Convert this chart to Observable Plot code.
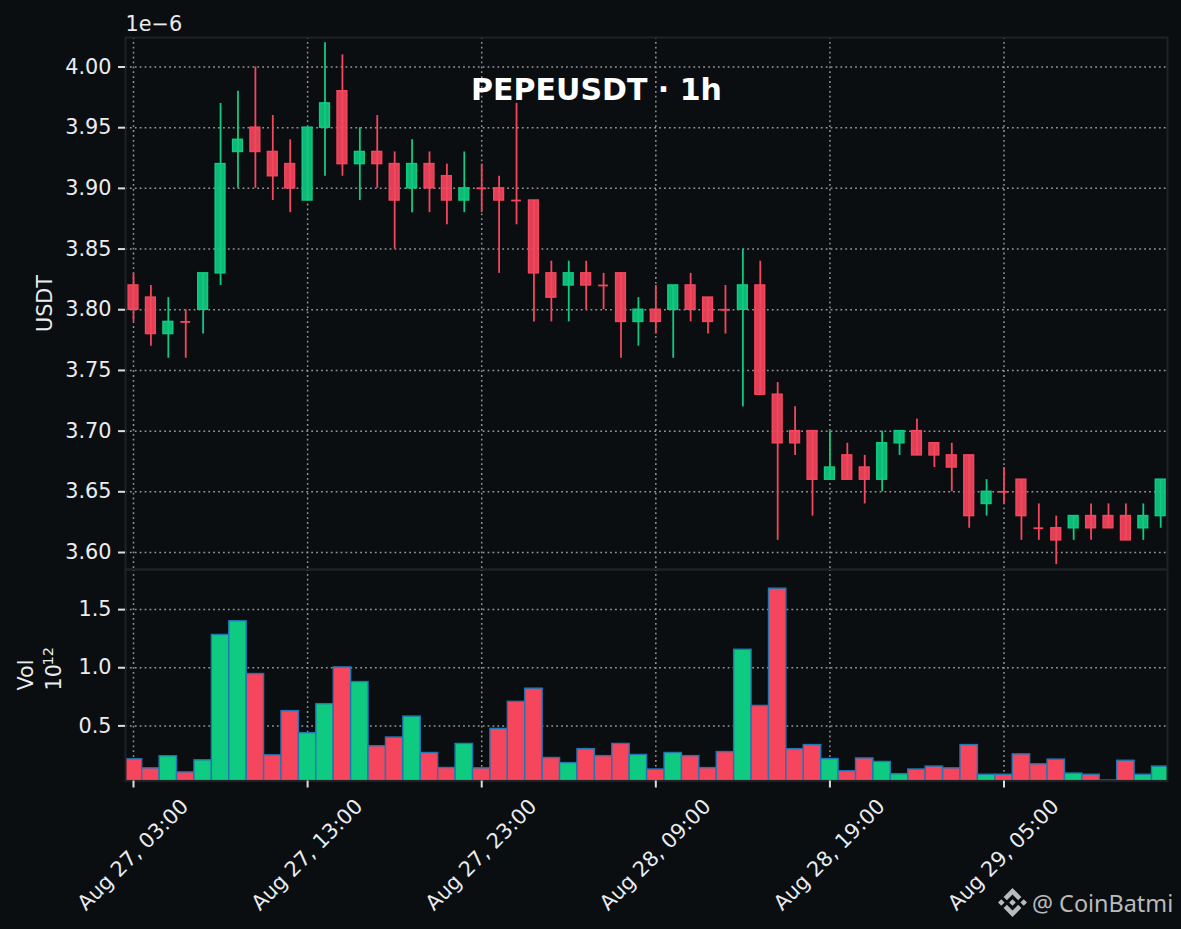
<!DOCTYPE html>
<html>
<head>
<meta charset="utf-8">
<script src="https://cdn.jsdelivr.net/npm/d3@7"></script>
<script src="https://cdn.jsdelivr.net/npm/@observablehq/plot@0.6"></script>
<style>
html,body{margin:0;padding:0;background:#0B0E11;}
#wrap{position:relative;width:1181px;height:929px;overflow:hidden;font-family:"DejaVu Sans",sans-serif;}
#wrap svg{display:block;}
#wm{position:absolute;left:998px;top:888px;display:flex;align-items:center;color:#b9bbbd;font:23.4px "Noto Sans",sans-serif;white-space:nowrap;line-height:28px;}
#wm svg{width:29px;height:29px;margin-right:5px;fill:#b9bbbd;}
</style>
</head>
<body>
<div id="wrap"></div>
<script>
const startTime = "2023-08-27T03:00:00Z";
const opens  = [3.82,3.81,3.78,3.79,3.80,3.83,3.93,3.95,3.93,3.92,3.89,3.95,3.98,3.92,3.93,3.92,3.90,3.92,3.91,3.89,3.90,3.90,3.89,3.89,3.83,3.82,3.83,3.82,3.83,3.79,3.80,3.80,3.82,3.81,3.80,3.80,3.82,3.73,3.70,3.70,3.66,3.68,3.67,3.66,3.69,3.70,3.69,3.68,3.68,3.64,3.65,3.66,3.62,3.62,3.62,3.63,3.63,3.63,3.62,3.63];
const highs  = [3.83,3.82,3.81,3.80,3.83,3.97,3.98,4.00,3.96,3.94,3.95,4.02,4.01,3.95,3.96,3.93,3.94,3.93,3.92,3.93,3.92,3.91,3.97,3.89,3.84,3.84,3.84,3.83,3.83,3.81,3.82,3.82,3.83,3.81,3.82,3.85,3.84,3.74,3.72,3.70,3.70,3.69,3.68,3.70,3.70,3.71,3.69,3.69,3.68,3.66,3.67,3.66,3.64,3.63,3.63,3.64,3.64,3.64,3.64,3.66];
const lows   = [3.79,3.77,3.76,3.76,3.78,3.82,3.90,3.90,3.89,3.88,3.89,3.91,3.91,3.89,3.90,3.85,3.88,3.88,3.87,3.88,3.88,3.83,3.87,3.79,3.79,3.79,3.80,3.80,3.76,3.77,3.78,3.76,3.79,3.78,3.78,3.72,3.73,3.61,3.68,3.63,3.66,3.66,3.64,3.65,3.68,3.68,3.67,3.65,3.62,3.63,3.64,3.61,3.61,3.59,3.61,3.61,3.62,3.61,3.61,3.62];
const closes = [3.80,3.78,3.79,3.79,3.83,3.92,3.94,3.93,3.91,3.90,3.95,3.97,3.92,3.93,3.92,3.89,3.92,3.90,3.89,3.90,3.90,3.89,3.89,3.83,3.81,3.83,3.82,3.82,3.79,3.80,3.79,3.82,3.80,3.79,3.80,3.82,3.73,3.69,3.69,3.66,3.67,3.66,3.66,3.69,3.70,3.68,3.68,3.67,3.63,3.65,3.65,3.63,3.62,3.61,3.63,3.62,3.62,3.61,3.63,3.66];
const volumes = [0.213,0.135,0.239,0.10,0.204,1.282,1.40,0.946,0.247,0.627,0.437,0.687,1.003,0.877,0.325,0.40,0.58,0.267,0.138,0.345,0.135,0.474,0.707,0.82,0.224,0.18,0.30,0.24,0.345,0.25,0.125,0.267,0.24,0.137,0.275,1.155,0.672,1.68,0.30,0.335,0.215,0.11,0.22,0.19,0.085,0.125,0.15,0.135,0.335,0.08,0.08,0.255,0.17,0.21,0.09,0.08,0.03,0.20,0.08,0.15];
const priceTicks = [3.60,3.65,3.70,3.75,3.80,3.85,3.90,3.95,4.00];
const volTicks = [0.5,1.0,1.5];
const tickHours = [0,10,20,30,40,50];

const UP = "#0ECB81", DOWN = "#F6465D", BG = "#0B0E11", FRAME = "#1E2226", INK = "#EAECEF", GRID = "#939495";
const t0 = new Date(startTime);
const at = h => new Date(+t0 + h * 3600e3);
const candles = opens.map((o, i) => ({
  t: at(i), t1: at(i - 0.28), t2: at(i + 0.28), b1: at(i - 0.5), b2: at(i + 0.5),
  open: o, high: highs[i], low: lows[i], close: closes[i], vol: volumes[i],
  up: closes[i] > o
}));
const dojis = candles.filter(d => d.open === d.close);
const xTicks = tickHours.map(at);
const xDomain = [at(-0.46), at(59.39)];
const W = 1181, ML = 125, MR = 14;
const tone = d => d.up ? UP : DOWN;
const gridOpts = {stroke: GRID, strokeOpacity: 1, strokeWidth: 1.5, strokeDasharray: "1.8,3.1"};
const fontOpts = {fontFamily: "DejaVu Sans, sans-serif", fontSize: 20.8};

const pricePanel = Plot.plot({
  width: W, height: 569, marginLeft: ML, marginRight: MR, marginTop: 37, marginBottom: 0,
  style: {background: BG, ...fontOpts, color: INK, overflow: "visible"},
  x: {type: "utc", domain: xDomain},
  y: {domain: [3.586, 4.0243]},
  marks: [
    Plot.gridX(xTicks, gridOpts),
    Plot.gridY(priceTicks, gridOpts),
    Plot.ruleX(candles, {x: "t", y1: "low", y2: "high", stroke: tone, strokeWidth: 1.8, clip: true}),
    Plot.rect(candles, {x1: "t1", x2: "t2", y1: "open", y2: "close", fill: tone, fillOpacity: 0.9, stroke: tone, strokeWidth: 1.5, clip: true}),
    Plot.ruleY(dojis, {y: "close", x1: "t1", x2: "t2", stroke: tone, strokeWidth: 1.8, clip: true}),
    Plot.frame({stroke: FRAME, strokeWidth: 2}),
    Plot.axisY({ticks: priceTicks, tickFormat: d3.format(".2f"), tickSize: 7, tickPadding: 7, strokeWidth: 2, stroke: "#dddddd", fill: INK, label: "USDT", labelAnchor: "center", labelArrow: "none", labelOffset: 88, ...fontOpts}),
    Plot.axisX({ticks: [], label: null}),
    Plot.text(["1e\u22126"], {frameAnchor: "top-left", textAnchor: "start", lineAnchor: "middle", dy: -13, fill: INK, ...fontOpts}),
    Plot.text(["PEPEUSDT \u00b7 1h"], {frameAnchor: "top-left", textAnchor: "middle", lineAnchor: "middle", dx: 471, dy: 53, fill: "#FFFFFF", fontFamily: "DejaVu Sans, sans-serif", fontSize: 30, fontWeight: "bold"})
  ]
});

const volumePanel = Plot.plot({
  width: W, height: 360, marginLeft: ML, marginRight: MR, marginTop: 0, marginBottom: 148.5,
  style: {background: BG, ...fontOpts, color: INK, overflow: "visible"},
  x: {type: "utc", domain: xDomain},
  y: {domain: [0.026, 1.845]},
  marks: [
    Plot.gridX(xTicks, gridOpts),
    Plot.gridY(volTicks, gridOpts),
    Plot.rect(candles, {x1: "b1", x2: "b2", y1: 0.026, y2: "vol", fill: tone, stroke: "#1f77b4", strokeWidth: 1.4, clip: true}),
    Plot.frame({stroke: FRAME, strokeWidth: 2}),
    Plot.axisY({ticks: volTicks, tickFormat: d3.format(".1f"), tickSize: 7, tickPadding: 7, strokeWidth: 2, stroke: "#dddddd", fill: INK, label: null, ...fontOpts}),
    Plot.axisX({ticks: xTicks, tickFormat: () => "", tickSize: 7, strokeWidth: 2, stroke: "#dddddd", label: null}),
    Plot.axisX({ticks: xTicks, tickFormat: d3.utcFormat("%b %d, %H:%M"), tickSize: 0, tickPadding: 8, tickRotate: -45, textAnchor: "end", dx: 51.5, dy: 14, fill: INK, label: null, ...fontOpts}),
    Plot.text(["Vol"], {frameAnchor: "top-left", rotate: -90, textAnchor: "start", lineAnchor: "middle", dx: -99, dy: 121, fill: INK, ...fontOpts}),
    Plot.text(["10"], {frameAnchor: "top-left", rotate: -90, textAnchor: "start", lineAnchor: "middle", dx: -71, dy: 121, fill: INK, ...fontOpts}),
    Plot.text(["12"], {frameAnchor: "top-left", rotate: -90, textAnchor: "start", lineAnchor: "middle", dx: -77, dy: 96, fill: INK, fontFamily: "DejaVu Sans, sans-serif", fontSize: 14.6})
  ]
});

const wrap = document.getElementById("wrap");
wrap.append(pricePanel, volumePanel);
const wm = document.createElement("div");
wm.id = "wm";
wm.innerHTML = '<svg viewBox="0 0 24 24"><path d="M7.34 10.08 12 5.42l4.66 4.66 2.71-2.71L12 0 4.63 7.37zM0 12l2.71-2.71L5.42 12l-2.71 2.71zM7.34 13.92 12 18.58l4.66-4.66 2.71 2.71L12 24l-7.37-7.37zM18.58 12l2.71-2.71L24 12l-2.71 2.71zM14.75 12 12 9.25 9.25 12 12 14.75z"/></svg><span>@ CoinBatmi</span>';
wrap.append(wm);
</script>
</body>
</html>
